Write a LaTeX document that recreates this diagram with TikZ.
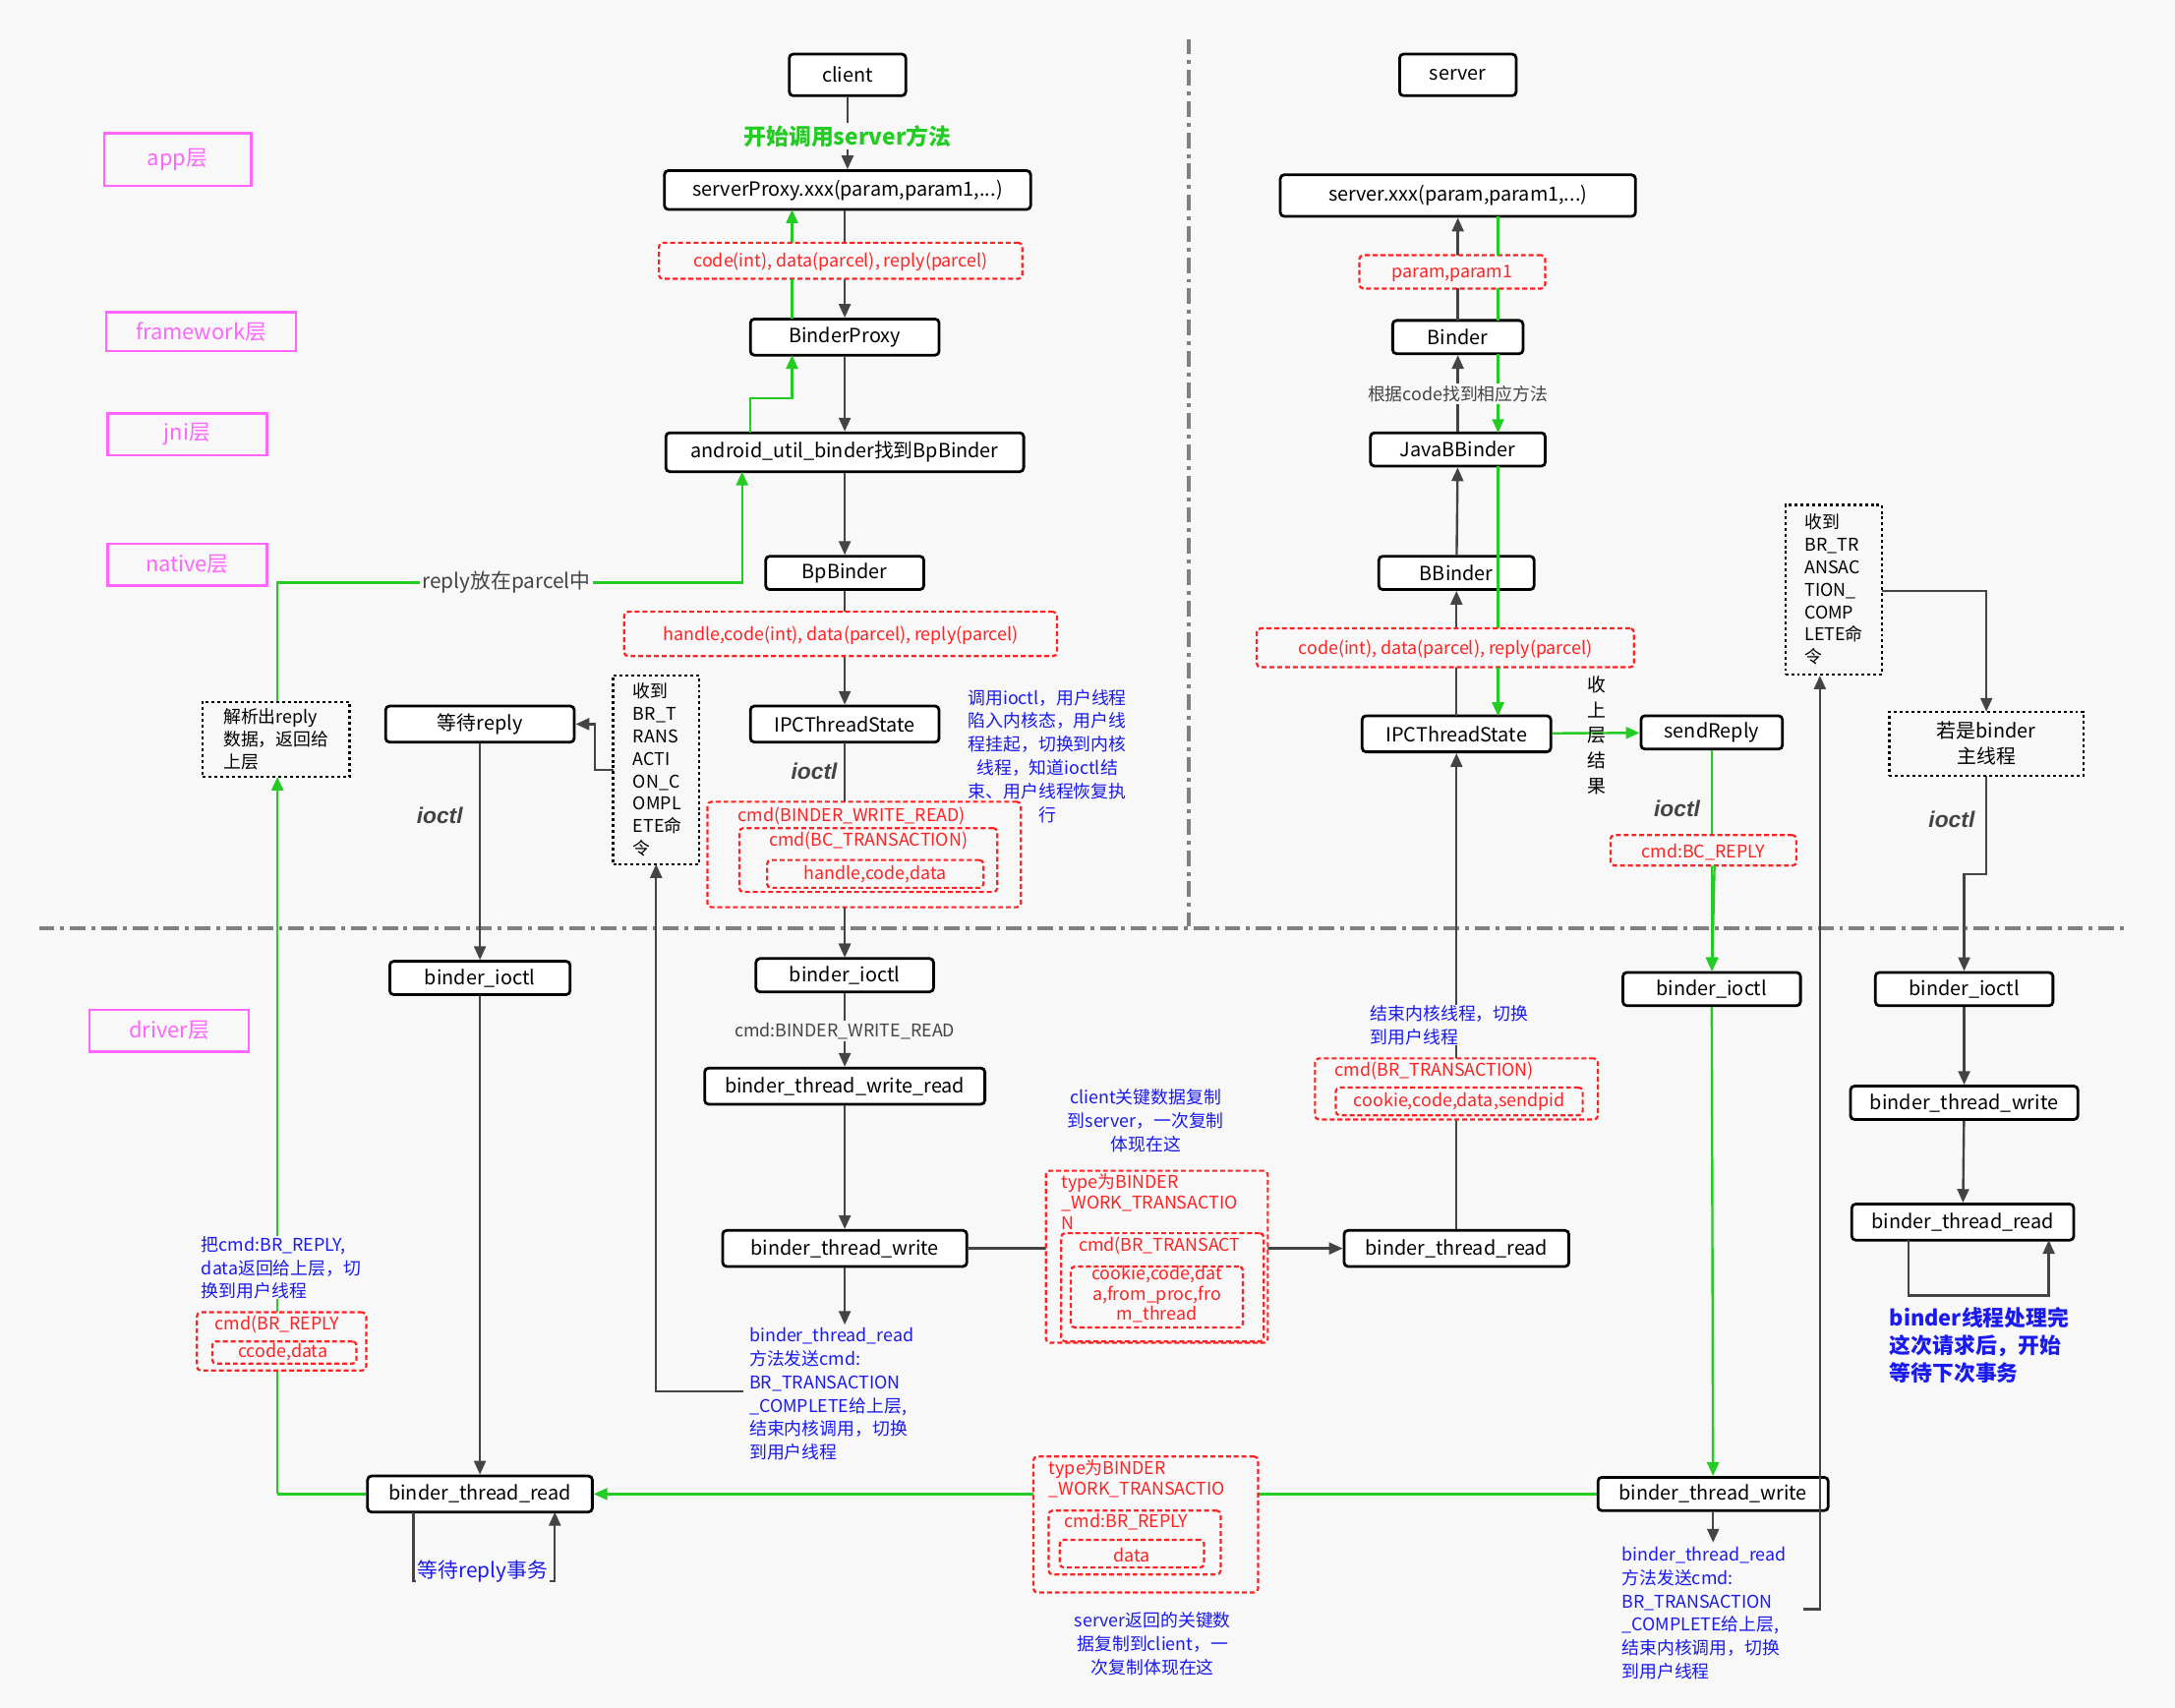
\documentclass[tikz,border=0pt]{standalone}
\usepackage{fontspec}
\setmainfont{Noto Sans CJK SC}
\newfontfamily\latit{Liberation Sans}
\usetikzlibrary{arrows.meta}
\definecolor{bg}{HTML}{F8F8F8}
\definecolor{rd}{HTML}{FF2222}
\definecolor{bl}{HTML}{1A1AEE}
\definecolor{gr}{HTML}{22CC22}
\definecolor{mg}{HTML}{FF66FF}
\definecolor{gy}{HTML}{444444}
\tikzset{
 sz/.style 2 args={minimum width=#1*0.025cm, minimum height=#2*0.025cm, inner sep=0pt},
 bx/.style={draw=black, line width=1.4pt, rounded corners=2pt, fill=white, font=\fontsize{10}{12}\selectfont},
 rb/.style={draw=rd, line width=1.1pt, dash pattern=on 2.5pt off 1.5pt, rounded corners=2pt, fill=bg},
 kb/.style={draw=black, line width=1.1pt, dash pattern=on 1.5pt off 1.5pt, fill=bg, font=\fontsize{9}{11.5}\selectfont, align=left},
 lay/.style={draw=mg, line width=1.2pt, text=mg, fill=bg, font=\fontsize{11}{13}\selectfont},
 rt/.style={text=rd, font=\fontsize{9}{10.5}\selectfont, inner sep=0pt},
 bt/.style={text=bl, font=\fontsize{9}{12}\selectfont, inner sep=0pt},
 gt/.style={text=gy, font=\fontsize{9}{11}\selectfont, inner sep=1pt},
 it/.style={font=\fontsize{11.5}{13}\latit\itshape\bfseries, text=gy, inner sep=0pt},
 ka/.style={draw=gy, line width=1.2pt, -{Triangle[length=7pt,width=6pt]}},
 kl/.style={draw=gy, line width=1.2pt},
 ga/.style={draw=gr, line width=1.2pt, -{Triangle[length=7pt,width=6pt]}},
 gl/.style={draw=gr, line width=1.2pt},
}
\begin{document}
\begin{tikzpicture}[x=0.025cm,y=-0.025cm]
\fill[bg] (0,0) rectangle (1568,1231);
\useasboundingbox (0,0) rectangle (1568,1231);
\draw[gray, line width=1.8pt, dash pattern=on 8pt off 3pt on 2pt off 3pt] (857,28) -- (857,668);
\draw[gray, line width=1.8pt, dash pattern=on 8pt off 3pt on 2pt off 3pt] (28,669) -- (1535,669);
% layers
\node[lay,sz={106}{38}] (Lapp) at (128,115) {app层};
\node[lay,sz={137}{28}] (Lfw) at (145,239) {framework层};
\node[lay,sz={115}{30}] (Ljni) at (135,313) {jni层};
\node[lay,sz={115}{30}] (Lnat) at (135,407) {native层};
\node[lay,sz={115}{30}] (Ldrv) at (122,743) {driver层};
\coordinate (c1) at (571,151); \coordinate (c2) at (571,230);
\coordinate (w1) at (609,955);
% nodes
\node[bx,sz={84}{30}] (client) at (611,54) {client};
\node[text=gr,font=\fontsize{11.5}{13}\selectfont\bfseries,fill=bg,inner sep=1pt] (start) at (611,98) {开始调用server方法};
\node[bx,sz={264}{28}] (sp) at (611,137) {serverProxy.xxx(param,param1,...)};
\node[bx,sz={136}{26}] (bp) at (609,243) {BinderProxy};
\node[bx,sz={258}{28}] (au) at (609,326) {android\_util\_binder找到BpBinder};
\node[bx,sz={114}{24}] (bpb) at (609,413) {BpBinder};
\node[bx,sz={136}{26}] (ipc1) at (609,522) {IPCThreadState};
\node[bx,sz={136}{26}] (wr) at (346,522) {等待reply};
\node[bx,sz={130}{24}] (bi1) at (346,705) {binder\_ioctl};
\node[bx,sz={128}{24}] (bi2) at (609,703) {binder\_ioctl};
\node[bx,sz={202}{26}] (btwr) at (609,783) {binder\_thread\_write\_read};
\node[bx,sz={176}{26}] (btw1) at (609,900) {binder\_thread\_write};
\node[bx,sz={162}{26}] (btr1) at (1050,900) {binder\_thread\_read};
\node[bx,sz={162}{26}] (btr2) at (346,1077) {binder\_thread\_read};
\node[bx,sz={84}{30}] (server) at (1051,54) {server};
\node[bx,sz={256}{30}] (sx) at (1051,141) {server.xxx(param,param1,...)};
\node[bx,sz={94}{24}] (binder) at (1051,243) {Binder};
\node[bx,sz={126}{24}] (jbb) at (1051,324) {JavaBBinder};
\node[bx,sz={112}{24}] (bbd) at (1050,413) {BBinder};
\node[bx,sz={136}{26}] (ipc2) at (1050,529) {IPCThreadState};
\node[bx,sz={102}{24}] (sr) at (1234,528) {sendReply};
\node[bx,sz={128}{24}] (bi3) at (1234,713) {binder\_ioctl};
\node[bx,sz={166}{24}] (btw2) at (1235,1077) {binder\_thread\_write};
\node[bx,sz={128}{24}] (bi4) at (1416,713) {binder\_ioctl};
\node[bx,sz={164}{24}] (btw3) at (1416,795) {binder\_thread\_write};
\node[bx,sz={160}{26}] (btr3) at (1415,881) {binder\_thread\_read};
% edges
\draw[ka] (client) -- (start) -- (sp);
\draw[ka] (sp.south -| bp.north) -- (bp.north);
\draw[ga] (c2) -- (c1);
\draw[ka] (bp) -- (au);
\draw[ga] (541,312) -- (541,287) -- (571,287) -- (571,256);
\draw[ka] (au) -- (bpb);
\draw[ka] (bpb) -- (ipc1);
\draw[ka] (ipc1) -- (bi2);
\draw[ka] (bi2) -- (btwr);
\draw[ka] (btwr) -- (btw1);
\draw[ka] (btw1) -- (w1);
\draw[ka] (btw1) -- (btr1);
\draw[ka] (btr1) -- (ipc2);
\draw[ka] (ipc2) -- (bbd);
\draw[ka] (bbd) -- (jbb);
\draw[ka] (jbb) -- (binder);
\draw[ka] (binder) -- (sx);
\draw[gl] (1080,156) -- (1080,231);
\draw[ga] (1080,255) -- (1080,312);
\draw[ga] (1080,336) -- (1080,516);
\draw[ga] (ipc2) -- (sr);
\draw[ga] (sr) -- (bi3);
\draw[ga] (bi3) -- (btw2);
\draw[ga] (btw2) -- (btr2);
\draw[ka] (btw2) -- (1235,1112);
\draw[ka] (1300,1160) -- (1312,1160) -- (1312,487);
\draw[ka] (1357,426) -- (1432,426) -- (1432,513);
\draw[ka] (1432,559) -- (1432,630) -- (1416,630) -- (bi4);
\draw[ka] (bi4) -- (btw3);
\draw[ka] (btw3) -- (btr3);
\draw[ka] (1376,894) -- (1376,934) -- (1477,934) -- (1477,894);
\draw[ka] (298,1090) -- (298,1140) -- (400,1140) -- (400,1090);
\draw[ka] (wr) -- (bi1);
\draw[ka] (bi1) -- (btr2);
\draw[ka] (536,1003) -- (473,1003) -- (473,623);
\draw[ka] (443,555) -- (429,555) -- (429,522) -- (wr);
\draw[gl] (btr2.west) -- (200,1077);
\draw[ga] (200,1077) -- (200,560);
\draw[ga] (200,506) -- (200,420) -- (535,420) -- (535,340);
% red boxes and texts
\node[rb,sz={262}{26}] (r1) at (606,188) {}; \node[rt] (r1t) at (606,189) {code(int), data(parcel), reply(parcel)};
\draw[gl] (571,201) -- (571,230);
\node[rb,sz={312}{32}] (r2) at (606,457) {}; \node[rt] (r2t) at (606,458) {handle,code(int), data(parcel), reply(parcel)};
\node[rb,sz={226}{76}] (r3) at (623,616) {}; \node[rt] (r3t) at (614,588) {cmd(BINDER\_WRITE\_READ)};
\node[rb,sz={186}{46}] (r3b) at (626,620) {}; \node[rt] (r3bt) at (626,606) {cmd(BC\_TRANSACTION)};
\node[rb,sz={156}{20}] (r3c) at (631,630) {}; \node[rt] (r3ct) at (631,630) {handle,code,data};
\draw[kl] (609,578) -- (609,535); \draw[ka] (609,654) -- (bi2);
\node[rb,sz={134}{24}] (r4) at (1047,196) {}; \node[rt] (r4t) at (1047,197) {param,param1};
\draw[kl] (1051,208) -- (1051,231); \draw[gl] (1080,208) -- (1080,231); \draw[gl] (1080,156) -- (1080,184);
\node[rb,sz={272}{28}] (r5) at (1042,467) {}; \node[rt] (r5t) at (1042,468) {code(int), data(parcel), reply(parcel)};
\draw[kl] (1050,481) -- (1050,516); \draw[ga] (1080,481) -- (1080,516);
\node[rb,sz={134}{22}] (r6) at (1228,613) {}; \node[rt] (r6t) at (1228,614) {cmd:BC\_REPLY};
\draw[ga] (1236,624) -- (bi3);
\node[rb,sz={204}{44}] (r7) at (1050,785) {}; \node[rt] (r7t) at (1034,772) {cmd(BR\_TRANSACTION)};
\node[rb,sz={178}{20}] (r7b) at (1052,794) {}; \node[rt] (r7bt) at (1052,794) {cookie,code,data,sendpid};
\node[rb,sz={122}{42}] (r8) at (203,967) {}; \node[rt] (r8t) at (200,955) {cmd(BR\_REPLY};
\node[rb,sz={104}{16}] (r8b) at (205,975) {}; \node[rt] (r8bt) at (204,975) {ccode,data};
\node[rb,sz={160}{124}] (r9) at (834,906) {}; \node[rt,align=left,anchor=north west] (r9t) at (765,846) {type为BINDER\\\_WORK\_TRANSACTIO\\N};
\node[rb,sz={146}{78}] (r9b) at (838,928) {}; \node[rt] (r9bt) at (836,898) {cmd(BR\_TRANSACT};
\node[rb,sz={124}{44}] (r9c) at (834,935) {}; \node[rt,align=center] (r9ct) at (834,933) {cookie,code,dat\\a,from\_proc,fro\\m\_thread};
\node[rb,sz={162}{98}] (r10) at (826,1099) {}; \node[rt,align=left,anchor=north west] (r10t) at (756,1052) {type为BINDER\\\_WORK\_TRANSACTIO};
\node[rb,sz={124}{46}] (r10b) at (818,1112) {}; \node[rt] (r10bt) at (812,1097) {cmd:BR\_REPLY};
\node[rb,sz={104}{20}] (r10c) at (816,1120) {}; \node[rt] (r10ct) at (816,1121) {data};
% black dotted boxes
\node[kb,sz={62}{136},inner sep=0pt] (rc1) at (473,555) {\,收到\\\,BR\_T\\\,RANS\\\,ACTI\\\,ON\_C\\\,OMPL\\\,ETE命\\\,令};
\node[kb,sz={106}{54}] (jx) at (199,533) {解析出reply\\数据，返回给\\上层};
\node[kb,sz={70}{122}] (rc2) at (1322,425) {收到\\BR\_TR\\ANSAC\\TION\_\\COMP\\LETE命\\令};
\node[kb,sz={140}{46},align=center,font=\fontsize{10}{13}\selectfont] (zx) at (1432,536) {若是binder\\主线程};
% plain texts
\node[gt,fill=bg,font=\fontsize{10.5}{12}\selectfont] (rp) at (365,420) {reply放在parcel中};
\node[gt,fill=bg] (gj) at (1051,284) {根据code找到相应方法};
\node[gt,fill=bg] (cmdw) at (609,743) {cmd:BINDER\_WRITE\_READ};
\node[it] (io1) at (587,556) {ioctl};
\node[it] (io2) at (317,588) {ioctl};
\node[it] (io3) at (1209,583) {ioctl};
\node[it] (io4) at (1407,591) {ioctl};
\node[align=center,font=\fontsize{9.5}{13}\selectfont,inner sep=0pt] (sj) at (1151,530) {收\\上\\层\\结\\果};
\node[bt,align=center] (b1) at (755,545) {调用ioctl，用户线程\\陷入内核态，用户线\\程挂起，切换到内核\\线程，知道ioctl结\\束、用户线程恢复执\\行};
\node[bt,align=left,anchor=north west,fill=bg] (b2) at (540,957) {binder\_thread\_read\\方法发送cmd:\\BR\_TRANSACTION\\\_COMPLETE给上层,\\结束内核调用，切换\\到用户线程};
\node[bt,align=left,anchor=west,fill=bg] (b3) at (145,914) {把cmd:BR\_REPLY,\\data返回给上层，切\\换到用户线程};
\node[bt,fill=bg,inner sep=1pt,font=\fontsize{10.5}{12}\selectfont] (b4) at (348,1133) {等待reply事务};
\node[bt,align=center] (b5) at (826,808) {client关键数据复制\\到server，一次复制\\体现在这};
\node[bt,align=center] (b6) at (831,1185) {server返回的关键数\\据复制到client，一\\次复制体现在这};
\node[bt,align=left,fill=bg] (b7) at (1045,739) {结束内核线程，切换\\到用户线程};
\node[bt,align=left,anchor=north west] (b8) at (1169,1115) {binder\_thread\_read\\方法发送cmd:\\BR\_TRANSACTION\\\_COMPLETE给上层,\\结束内核调用，切换\\到用户线程};
\node[bt,align=left,anchor=west,font=\fontsize{11}{14}\selectfont\bfseries] (b9) at (1362,970) {binder线程处理完\\这次请求后，开始\\等待下次事务};
\end{tikzpicture}
\end{document}
